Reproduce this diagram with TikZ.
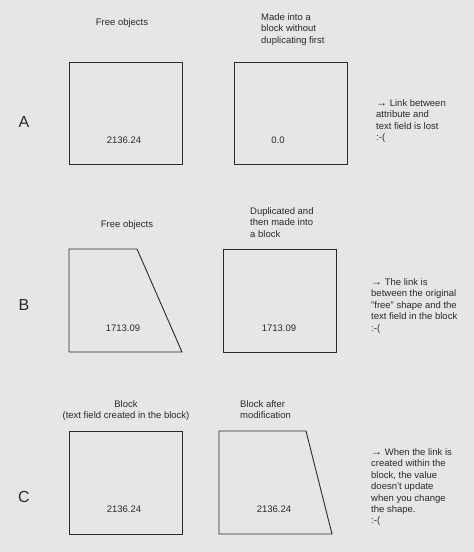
\documentclass[tikz,border=0pt]{standalone}
\usepackage{fontspec}
\setmainfont{Liberation Sans}
\definecolor{bggray}{HTML}{E6E6E6}
\definecolor{inkgray}{HTML}{2A2A2A}
\tikzset{
  shapeline/.style={draw=inkgray, line width=0.9pt},
  caption/.style={inner sep=0pt, text=inkgray, font=\fontsize{9.5}{11.4}\selectfont},
  rowlabel/.style={inner sep=0pt, text=inkgray, font=\fontsize{16}{18}\selectfont}
}
\newcommand{\notearrow}{{\fontsize{11}{11}\selectfont →}}
\begin{document}
\begin{tikzpicture}[x=1pt, y=-1pt]
                    \fill[bggray] (0,0) rectangle (474,552);
                    
                    % Row A
                    \node[rowlabel] (labA) at (24,122) {A};
                    \node[caption] (freeA) at (122,23) {Free objects};
                    \node[caption, anchor=north west, align=left] (madeA) at (261,13.5) {Made into a\\block without\\duplicating first};
                    \draw[shapeline] (69,62) rectangle (182,164);
                    \draw[shapeline] (234,62) rectangle (347,164);
                    \node[caption] (valA1) at (124,140) {2136.24};
                    \node[caption] (valA2) at (278,140) {0.0};
                    \node[caption, anchor=north west, align=left] (noteA) at (376,99.5) {\notearrow{} Link between\\attribute and\\text field is lost\\:-(};
                    
                    % Row B
                    \node[rowlabel] (labB) at (24,305) {B};
                    \node[caption] (freeB) at (127,225) {Free objects};
                    \node[caption, anchor=north west, align=left] (dupB) at (250,207.5) {Duplicated and\\then made into\\a block};
                    \draw[shapeline] (69,249) -- (137,249) -- (182,352) -- (69,352) -- cycle;
                    \draw[shapeline] (223,249) rectangle (336,352);
                    \node[caption] (valB1) at (123,328) {1713.09};
                    \node[caption] (valB2) at (279,328) {1713.09};
                    \node[caption, anchor=north west, align=left] (noteB) at (371,278.5) {\notearrow{} The link is\\between the original\\\char"22 free\char"22{} shape and the\\text field in the block\\:-(};
                    
                    % Row C
                    \node[rowlabel] (labC) at (24,497) {C};
                    \node[caption, anchor=north, align=center] (blockC) at (126,400.5) {Block\\(text field created in the block)};
                    \node[caption, anchor=north west, align=left] (afterC) at (240,400.5) {Block after\\modification};
                    \draw[shapeline] (69,431) rectangle (182,534);
                    \draw[shapeline] (219,431) -- (306,431) -- (332,534) -- (219,534) -- cycle;
                    \node[caption] (valC1) at (124,509) {2136.24};
                    \node[caption] (valC2) at (274,509) {2136.24};
                    \node[caption, anchor=north west, align=left] (noteC) at (371,448.5) {\notearrow{} When the link is\\created within the\\block, the value\\doesn\char"27 t update\\when you change\\the shape.\\:-(};
                \end{tikzpicture}
\end{document}
